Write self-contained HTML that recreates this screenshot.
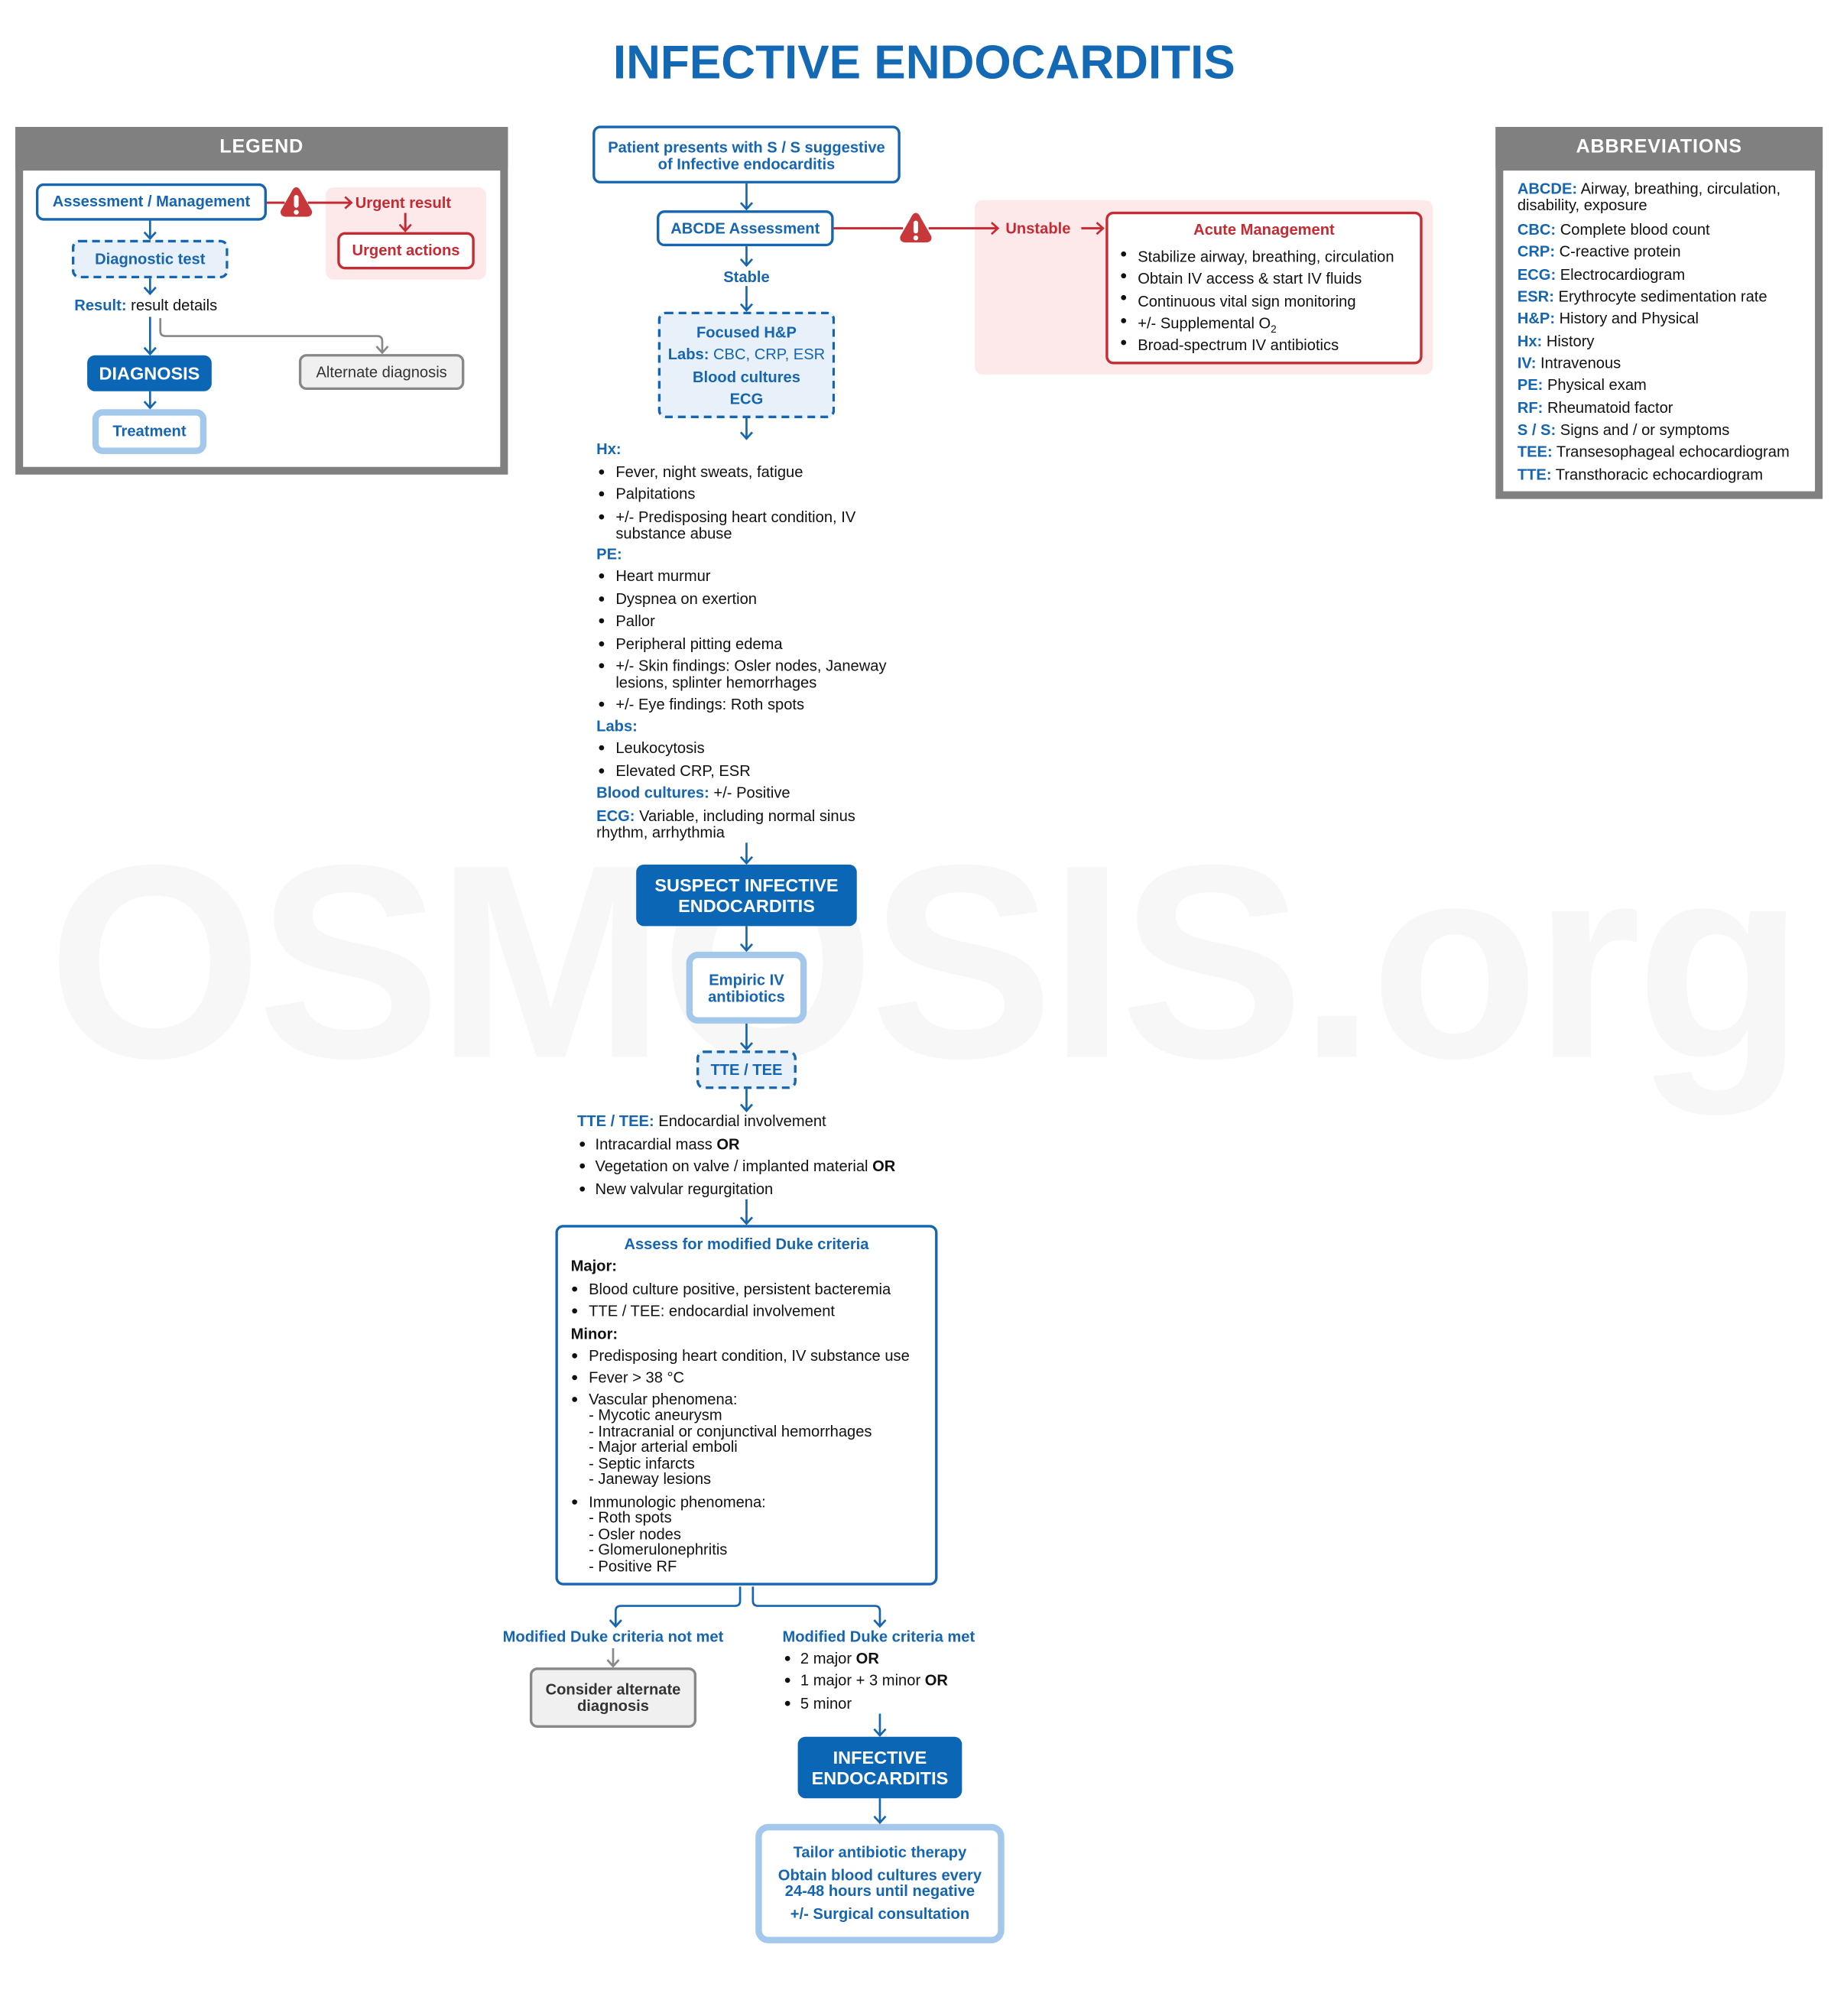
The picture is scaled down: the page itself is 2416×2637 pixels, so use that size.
<!DOCTYPE html>
<html><head><meta charset="utf-8">
<style>
*{margin:0;padding:0;box-sizing:border-box}
html,body{width:2416px;height:2637px;overflow:hidden;background:#fff}
#s{position:absolute;left:0;top:0;width:1440px;height:1572px;overflow:hidden;transform:scale(1.67778);transform-origin:0 0;font-family:"Liberation Sans",sans-serif;font-size:12px;color:#111}
.a{position:absolute;white-space:nowrap;line-height:13px}
.b{position:absolute;border-radius:6px}
.c{text-align:center}
.bl{color:#1565b0}
.sb{font-weight:bold}
.rd{color:#c62a32}
.hd{position:absolute;background:#808080;color:#fff;font-weight:bold;text-align:center;font-size:15px;line-height:32px;letter-spacing:0.5px}
.dot{position:absolute;width:4px;height:4px;border-radius:2px;background:#111}
svg{position:absolute;left:0;top:0}
</style></head><body><div id="s">
<div class="a" style="left:10px;top:610px;width:1420px;text-align:center;font-size:215px;line-height:280px;font-weight:bold;color:#f7f7f7;letter-spacing:-4px">OSMOSIS.org</div>

<div class="a sb" style="left:2px;width:1437px;top:26px;line-height:46px;font-size:37px;text-align:center;color:#1469b5">INFECTIVE ENDOCARDITIS</div>

<!-- legend -->
<div class="b" style="left:12px;top:99px;width:384px;height:271px;background:#808080;border-radius:0"></div>
<div class="hd" style="left:12px;top:99px;width:384px">LEGEND</div>
<div class="b" style="left:18px;top:133px;width:372px;height:231px;background:#fff;border-radius:0"></div>
<div class="b" style="left:254px;top:146px;width:125px;height:72px;background:#fde9ea"></div>
<div class="b bl sb c" style="left:28px;top:143px;width:180px;height:29px;border:2px solid #1565b0;line-height:25px">Assessment / Management</div>
<div class="a rd sb" style="left:277px;top:152px">Urgent result</div>
<div class="b rd sb c" style="left:263px;top:181px;width:107px;height:29px;border:2px solid #c62a32;line-height:25px;background:#fff">Urgent actions</div>
<div class="b bl sb c" style="left:56px;top:187px;width:122px;height:30px;border:2px dashed #1565b0;background:#e8f1fa;line-height:26px">Diagnostic test</div>
<div class="a" style="left:58px;top:232px"><span class="bl sb">Result:</span> result details</div>
<div class="b c" style="left:68px;top:277px;width:97px;height:28px;background:#0b66b5;color:#fff;font-weight:bold;font-size:14px;line-height:28px">DIAGNOSIS</div>
<div class="b c" style="left:233px;top:276px;width:129px;height:28px;border:2px solid #888;background:#f0f0f0;line-height:24px;color:#333">Alternate diagnosis</div>
<div class="b bl sb c" style="left:72px;top:319px;width:89px;height:35px;border:5px solid #a3c8ec;background:#fff;line-height:25px;border-radius:8px">Treatment</div>

<!-- abbreviations -->
<div class="b" style="left:1166px;top:99px;width:255px;height:290px;background:#808080;border-radius:0"></div>
<div class="hd" style="left:1166px;top:99px;width:255px">ABBREVIATIONS</div>
<div class="b" style="left:1172px;top:133px;width:243px;height:250px;background:#fff;border-radius:0"></div>
<div class="a" style="left:1183px;top:141px;line-height:12.5px"><span class="bl sb">ABCDE:</span> Airway, breathing, circulation,<br>disability, exposure</div>
<div class="a" style="left:1183px;top:171px;line-height:17.35px">
<span class="bl sb">CBC:</span> Complete blood count<br>
<span class="bl sb">CRP:</span> C-reactive protein<br>
<span class="bl sb">ECG:</span> Electrocardiogram<br>
<span class="bl sb">ESR:</span> Erythrocyte sedimentation rate<br>
<span class="bl sb">H&amp;P:</span> History and Physical<br>
<span class="bl sb">Hx:</span> History<br>
<span class="bl sb">IV:</span> Intravenous<br>
<span class="bl sb">PE:</span> Physical exam<br>
<span class="bl sb">RF:</span> Rheumatoid factor<br>
<span class="bl sb">S / S:</span> Signs and / or symptoms<br>
<span class="bl sb">TEE:</span> Transesophageal echocardiogram<br>
<span class="bl sb">TTE:</span> Transthoracic echocardiogram</div>

<!-- center flow -->
<div class="b bl c" style="left:462px;top:98px;width:240px;height:45px;border:2px solid #1565b0;line-height:12.5px;padding-top:9px;font-weight:bold">Patient presents with S / S suggestive<br>of <b>Infective endocarditis</b></div>
<div class="b bl sb c" style="left:512px;top:164px;width:138px;height:28px;border:2px solid #1565b0;line-height:24px">ABCDE Assessment</div>
<div class="a bl sb c" style="left:532px;width:100px;top:210px">Stable</div>
<div class="b bl c" style="left:513px;top:243px;width:138px;height:83px;border:2px dashed #1565b0;background:#e8f1fa;line-height:17.4px;padding-top:6px;font-weight:bold">Focused H&amp;P<br>Labs: <span style="font-weight:normal">CBC, CRP, ESR</span><br>Blood cultures<br>ECG</div>

<div class="b" style="left:760px;top:156px;width:357px;height:136px;background:#fde9ea"></div>
<div class="a rd sb" style="left:784px;top:172px">Unstable</div>
<div class="b" style="left:862px;top:165px;width:247px;height:119px;border:2px solid #c62a32;background:#fff"></div>
<div class="a rd sb c" style="left:862px;width:247px;top:173px">Acute Management</div>
<div class="a" style="left:887px;top:192px;line-height:17.3px">Stabilize airway, breathing, circulation<br>Obtain IV access &amp; start IV fluids<br>Continuous vital sign monitoring<br>+/- Supplemental O<sub style="font-size:8px;line-height:0">2</sub><br>Broad-spectrum IV antibiotics</div>

<!-- Hx list -->
<div class="a bl sb" style="left:465px;top:344px">Hx:</div>
<div class="a" style="left:480px;top:362px">Fever, night sweats, fatigue</div>
<div class="a" style="left:480px;top:379px">Palpitations</div>
<div class="a" style="left:480px;top:397px;line-height:12.5px">+/- Predisposing heart condition, IV<br>substance abuse</div>
<div class="a bl sb" style="left:465px;top:426px">PE:</div>
<div class="a" style="left:480px;top:443px">Heart murmur</div>
<div class="a" style="left:480px;top:461px">Dyspnea on exertion</div>
<div class="a" style="left:480px;top:478px">Pallor</div>
<div class="a" style="left:480px;top:496px">Peripheral pitting edema</div>
<div class="a" style="left:480px;top:513px;line-height:12.5px">+/- Skin findings: Osler nodes, Janeway<br>lesions, splinter hemorrhages</div>
<div class="a" style="left:480px;top:543px">+/- Eye findings: Roth spots</div>
<div class="a bl sb" style="left:465px;top:560px">Labs:</div>
<div class="a" style="left:480px;top:577px">Leukocytosis</div>
<div class="a" style="left:480px;top:595px">Elevated CRP, ESR</div>
<div class="a" style="left:465px;top:612px"><span class="bl sb">Blood cultures:</span> +/- Positive</div>
<div class="a" style="left:465px;top:630px;line-height:12.5px"><span class="bl sb">ECG:</span> Variable, including normal sinus<br>rhythm, arrhythmia</div>
<div class="dot" style="left:467px;top:366px"></div><div class="dot" style="left:467px;top:383px"></div><div class="dot" style="left:467px;top:401px"></div>
<div class="dot" style="left:467px;top:447px"></div><div class="dot" style="left:467px;top:465px"></div><div class="dot" style="left:467px;top:482px"></div><div class="dot" style="left:467px;top:500px"></div><div class="dot" style="left:467px;top:517px"></div><div class="dot" style="left:467px;top:547px"></div>
<div class="dot" style="left:467px;top:581px"></div><div class="dot" style="left:467px;top:599px"></div>
<div class="dot" style="left:874px;top:196px"></div><div class="dot" style="left:874px;top:213px"></div><div class="dot" style="left:874px;top:230px"></div><div class="dot" style="left:874px;top:248px"></div><div class="dot" style="left:874px;top:265px"></div>

<div class="b c" style="left:496px;top:674px;width:172px;height:48px;background:#0b66b5;color:#fff;font-weight:bold;font-size:14px;line-height:16px;padding-top:8px">SUSPECT INFECTIVE<br>ENDOCARDITIS</div>
<div class="b bl sb c" style="left:535px;top:742px;width:94px;height:56px;border:5px solid #a3c8ec;background:#fff;line-height:12.5px;padding-top:11px;border-radius:9px">Empiric IV<br>antibiotics</div>
<div class="b bl sb c" style="left:543px;top:819px;width:78px;height:30px;border:2px dashed #1565b0;background:#e8f1fa;line-height:26px">TTE / TEE</div>

<div class="a" style="left:450px;top:868px"><span class="bl sb">TTE / TEE:</span> Endocardial involvement</div>
<div class="a" style="left:464px;top:886px">Intracardial mass <b>OR</b></div>
<div class="a" style="left:464px;top:903px">Vegetation on valve / implanted material <b>OR</b></div>
<div class="a" style="left:464px;top:921px">New valvular regurgitation</div>
<div class="dot" style="left:452px;top:890px"></div><div class="dot" style="left:452px;top:907px"></div><div class="dot" style="left:452px;top:925px"></div>

<div class="b" style="left:433px;top:955px;width:298px;height:281px;border:2px solid #1565b0;background:#fff"></div>
<div class="a bl sb c" style="left:433px;width:298px;top:964px">Assess for modified Duke criteria</div>
<div class="a sb" style="left:445px;top:981px">Major:</div>
<div class="a" style="left:459px;top:999px">Blood culture positive, persistent bacteremia</div>
<div class="a" style="left:459px;top:1016px">TTE / TEE: endocardial involvement</div>
<div class="a sb" style="left:445px;top:1034px">Minor:</div>
<div class="a" style="left:459px;top:1051px">Predisposing heart condition, IV substance use</div>
<div class="a" style="left:459px;top:1068px">Fever &gt; 38 °C</div>
<div class="a" style="left:459px;top:1085px;line-height:12.4px">Vascular phenomena:<br>- Mycotic aneurysm<br>- Intracranial or conjunctival hemorrhages<br>- Major arterial emboli<br>- Septic infarcts<br>- Janeway lesions</div>
<div class="a" style="left:459px;top:1165px;line-height:12.4px">Immunologic phenomena:<br>- Roth spots<br>- Osler nodes<br>- Glomerulonephritis<br>- Positive RF</div>
<div class="dot" style="left:446px;top:1003px"></div><div class="dot" style="left:446px;top:1020px"></div><div class="dot" style="left:446px;top:1055px"></div><div class="dot" style="left:446px;top:1072px"></div><div class="dot" style="left:446px;top:1089px"></div><div class="dot" style="left:446px;top:1169px"></div>

<div class="a bl sb c" style="left:378px;width:200px;top:1270px">Modified Duke criteria not met</div>
<div class="b c" style="left:413px;top:1300px;width:130px;height:47px;border:2px solid #888;background:#f0f0f0;line-height:12.5px;padding-top:9px;color:#333;font-weight:bold">Consider alternate<br>diagnosis</div>
<div class="a bl sb" style="left:610px;top:1270px">Modified Duke criteria met</div>
<div class="a" style="left:624px;top:1287px">2 major <b>OR</b></div>
<div class="a" style="left:624px;top:1304px">1 major + 3 minor <b>OR</b></div>
<div class="a" style="left:624px;top:1322px">5 minor</div>
<div class="dot" style="left:612px;top:1291px"></div><div class="dot" style="left:612px;top:1308px"></div><div class="dot" style="left:612px;top:1326px"></div>
<div class="b c" style="left:622px;top:1354px;width:128px;height:48px;background:#0b66b5;color:#fff;font-weight:bold;font-size:14px;line-height:16px;padding-top:8px">INFECTIVE<br>ENDOCARDITIS</div>
<div class="b bl sb c" style="left:589px;top:1422px;width:194px;height:93px;border:5px solid #a3c8ec;background:#fff;line-height:12.5px;padding-top:11px;border-radius:10px">Tailor antibiotic therapy<br><div style="height:5px"></div>Obtain blood cultures every<br>24-48 hours until negative<br><div style="height:5px"></div>+/- Surgical consultation</div>

<svg width="1440" height="1572" viewBox="0 0 1440 1572">
<defs>
<marker id="m" markerWidth="12" markerHeight="12" refX="9" refY="6" orient="auto" markerUnits="userSpaceOnUse" viewBox="0 0 12 12"><polyline points="4,1.5 9,6 4,10.5" fill="none" stroke="#1565b0" stroke-width="1.6"/></marker>
<marker id="mr" markerWidth="12" markerHeight="12" refX="9" refY="6" orient="auto" markerUnits="userSpaceOnUse" viewBox="0 0 12 12"><polyline points="4,1.5 9,6 4,10.5" fill="none" stroke="#c62a32" stroke-width="1.6"/></marker>
<marker id="mg" markerWidth="12" markerHeight="12" refX="9" refY="6" orient="auto" markerUnits="userSpaceOnUse" viewBox="0 0 12 12"><polyline points="4,1.5 9,6 4,10.5" fill="none" stroke="#888" stroke-width="1.6"/></marker>
<g id="w"><path d="M0,-14 C2,-14 3,-12 4,-10 L12,4 C13,7 11,9 8,9 L-8,9 C-11,9 -13,7 -12,4 L-4,-10 C-3,-12 -2,-14 0,-14Z" fill="#c8373a"/><rect x="-1.8" y="-8" width="3.6" height="10" rx="1.8" fill="#fff"/><circle cx="0" cy="5.5" r="1.9" fill="#fff"/></g>
</defs>
<g fill="none" stroke="#1565b0" stroke-width="1.6">
<line x1="117" y1="172" x2="117" y2="186" marker-end="url(#m)"/>
<line x1="117" y1="217" x2="117" y2="229" marker-end="url(#m)"/>
<line x1="117" y1="247" x2="117" y2="276" marker-end="url(#m)"/>
<line x1="117" y1="305" x2="117" y2="318" marker-end="url(#m)"/>
<line x1="582" y1="143" x2="582" y2="163" marker-end="url(#m)"/>
<line x1="582" y1="192" x2="582" y2="207" marker-end="url(#m)"/>
<line x1="582" y1="223" x2="582" y2="242" marker-end="url(#m)"/>
<line x1="582" y1="326" x2="582" y2="342" marker-end="url(#m)"/>
<line x1="582" y1="657" x2="582" y2="673" marker-end="url(#m)"/>
<line x1="582" y1="722" x2="582" y2="741" marker-end="url(#m)"/>
<line x1="582" y1="798" x2="582" y2="818" marker-end="url(#m)"/>
<line x1="582" y1="849" x2="582" y2="866" marker-end="url(#m)"/>
<line x1="582" y1="935" x2="582" y2="954" marker-end="url(#m)"/>
<path d="M577,1237 V1248 Q577,1252 573,1252 H484 Q480,1252 480,1256 V1268" marker-end="url(#m)"/>
<path d="M587,1237 V1248 Q587,1252 591,1252 H682 Q686,1252 686,1256 V1268" marker-end="url(#m)"/>
<line x1="686" y1="1336" x2="686" y2="1353" marker-end="url(#m)"/>
<line x1="686" y1="1402" x2="686" y2="1421" marker-end="url(#m)"/>
</g>
<g fill="none" stroke="#888" stroke-width="1.6">
<path d="M125,248 V258 Q125,262 129,262 H294 Q298,262 298,266 V275" marker-end="url(#mg)"/>
<line x1="478" y1="1285" x2="478" y2="1299" marker-end="url(#mg)"/>
</g>
<g fill="none" stroke="#c62a32" stroke-width="1.8">
<line x1="208" y1="158" x2="222" y2="158"/>
<line x1="240" y1="158" x2="274" y2="158" marker-end="url(#mr)"/>
<line x1="316" y1="166" x2="316" y2="180" marker-end="url(#mr)"/>
<line x1="650" y1="178" x2="704" y2="178"/>
<line x1="724" y1="178" x2="778" y2="178" marker-end="url(#mr)"/>
<line x1="843" y1="178" x2="860" y2="178" marker-end="url(#mr)"/>
</g>
<use href="#w" x="231" y="160"/>
<use href="#w" x="714" y="180"/>
</svg>
</div></body></html>
